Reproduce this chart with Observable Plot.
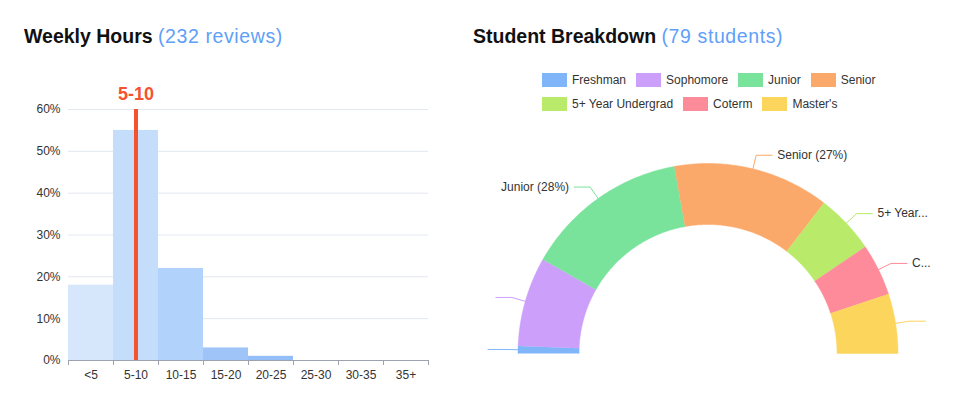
<!DOCTYPE html>
<html>
<head>
<meta charset="utf-8">
<script src="https://cdn.jsdelivr.net/npm/d3@7"></script>
<script src="https://cdn.jsdelivr.net/npm/@observablehq/plot@0.6"></script>
<style>
  html, body { margin: 0; padding: 0; background: #fff; }
  body { width: 962px; height: 394px; position: relative; overflow: hidden;
         font-family: "Liberation Sans", Arial, sans-serif; color: #111; }
  .title { position: absolute; top: 24px; font-size: 19.5px; font-weight: bold; white-space: nowrap; line-height: 24px; }
  .title span { color: #60a0f8; font-weight: normal; letter-spacing: 0.6px; }
  #left { position: absolute; left: 0; top: 60px; }
  #right { position: absolute; left: 480px; top: 130px; }
  #legend { position: absolute; left: 542px; top: 73px; width: 338px; }
  #legend .sw-wrap { display: flex !important; flex-wrap: wrap !important; column-gap: 10px; row-gap: 10px; margin: 0 !important; min-height: 0 !important;
                     font-family: "Liberation Sans", Arial, sans-serif !important; font-size: 12px !important; }
  #legend .sw-item { display: inline-flex !important; align-items: center; font-size: 12px !important; color: #333 !important; height: 14px; line-height: 14px;
                     margin: 0 !important; font-family: "Liberation Sans", Arial, sans-serif !important; }
  #legend .sw-item svg { margin: 0 5px 0 0 !important; border-radius: 4px; }
</style>
</head>
<body>
<div class="title" style="left:24px">Weekly Hours <span>(232 reviews)</span></div>
<div class="title" style="left:473px">Student Breakdown <span>(79 students)</span></div>
<div id="left"></div>
<div id="legend"></div>
<div id="right"></div>
<script>
// ---------- data ----------
const hourCategories = ["<5", "5-10", "10-15", "15-20", "20-25", "25-30", "30-35", "35+"];
const hourShares = [18, 55, 22, 3, 1, 0, 0, 0];           // percent of reviews
const highlightCategory = "5-10";
const yTickValues = [0, 10, 20, 30, 40, 50, 60];

const studentGroups = ["Freshman", "Sophomore", "Junior", "Senior", "5+ Year Undergrad", "Coterm", "Master's"];
const studentCounts = [1, 12, 22, 21, 8, 7, 8];
const sliceLabels = ["", "", "Junior (28%)", "Senior (27%)", "5+ Year...", "C...", ""];

// ---------- styles ----------
const barColors = ["#d6e7fc", "#c4ddfa", "#b1d2fa", "#9ec4f8", "#94bef7", "#94bef7", "#94bef7", "#94bef7"];
const groupColors = ["#80b6f9", "#cc9ffa", "#79e39b", "#fba96a", "#b9ea69", "#fd8b9a", "#fcd55c"];
const highlightColor = "#f5532f";

// ---------- left: histogram ----------
const bars = hourCategories.map((c, i) => ({cat: c, i, share: hourShares[i]}));
const hi = hourCategories.indexOf(highlightCategory);

const left = Plot.plot({
  width: 430, height: 334,
  marginLeft: 68, marginRight: 2, marginTop: 49, marginBottom: 34,
  style: {fontFamily: "Liberation Sans, Arial, sans-serif", fontSize: "12px", color: "#333", background: "transparent"},
  x: {domain: [0, hourCategories.length], label: null},
  y: {domain: [0, 60], label: null},
  marks: [
    Plot.gridY(yTickValues.filter(d => d > 0), {stroke: "#e2e8f0", strokeOpacity: 1}),
    Plot.rectY(bars, {x1: "i", x2: d => d.i + 1, y: "share", fill: d => barColors[d.i]}),
    Plot.ruleY([0], {stroke: "#9ca3af"}),
    Plot.axisX(d3.range(0, hourCategories.length + 1), {tickSize: 5, stroke: "#9ca3af", tickFormat: () => "", label: null}),
    Plot.axisX(bars.map(d => d.i + 0.5), {tickSize: 0, tickPadding: 10, fill: "#333", fontSize: 12, label: null,
      tickFormat: v => hourCategories[Math.floor(v)]}),
    Plot.axisY(yTickValues, {tickSize: 0, tickPadding: 8, fill: "#333", fontSize: 12, label: null, tickFormat: d => d + "%"}),
    Plot.ruleX([hi + 0.5], {y1: 0, y2: 60, stroke: highlightColor, strokeWidth: 4}),
    Plot.text([highlightCategory], {x: hi + 0.5, y: 60, text: d => d, dy: -15,
      fill: highlightColor, fontWeight: "bold", fontSize: 18})
  ]
});
document.getElementById("left").append(left);

// ---------- legend ----------
const legend = Plot.legend({
  color: {type: "ordinal", domain: studentGroups, range: groupColors},
  legend: "swatches", swatchWidth: 25, swatchHeight: 14, className: "sw"
});
document.getElementById("legend").append(legend);
legend.classList.add("sw-wrap");
legend.querySelectorAll("span").forEach(s => s.classList.add("sw-item"));

// ---------- right: half donut ----------
const R = 190, r = 129;
const total = d3.sum(studentCounts);
let acc = 0;
const slices = studentGroups.map((g, i) => {
  const f0 = acc / total; acc += studentCounts[i]; const f1 = acc / total;
  return {group: g, i, a0: Math.PI * (1 - f0), a1: Math.PI * (1 - f1), pct: studentCounts[i] / total};
});

const polys = [];
for (const s of slices) {
  const n = 64;
  for (let k = 0; k <= n; k++) { const a = s.a0 + (s.a1 - s.a0) * k / n; polys.push({g: s.group, i: s.i, x: R * Math.cos(a), y: R * Math.sin(a)}); }
  for (let k = n; k >= 0; k--) { const a = s.a0 + (s.a1 - s.a0) * k / n; polys.push({g: s.group, i: s.i, x: r * Math.cos(a), y: r * Math.sin(a)}); }
}

const leaders = [];
const labelPts = [];
for (const s of slices) {
  const am = (s.a0 + s.a1) / 2;
  const c = Math.cos(am), sn = Math.sin(am);
  const p0 = {x: R * c, y: R * sn};
  const p1 = {x: (R + 14) * c, y: (R + 14) * sn};
  const side = c >= 0 ? 1 : -1;
  const p2 = {x: p1.x + 16 * side, y: p1.y};
  for (const p of [p0, p1, p2]) leaders.push({g: s.group, i: s.i, ...p});
  labelPts.push({i: s.i, x: p2.x + 5 * side, y: p2.y, side, text: sliceLabels[s.i]});
}

const right = Plot.plot({
  width: 482, height: 264,
  marginLeft: 0, marginRight: 0, marginTop: 0, marginBottom: 0,
  style: {fontFamily: "Liberation Sans, Arial, sans-serif", fontSize: "12px", background: "transparent", overflow: "visible"},
  x: {domain: [-227.5, 254.5], axis: null},
  y: {domain: [-41, 223], axis: null},
  marks: [
    ...slices.map(s => Plot.line(polys.filter(p => p.i === s.i), {x: "x", y: "y", fill: groupColors[s.i], stroke: groupColors[s.i], strokeWidth: 0.5, curve: "linear"})),
    ...slices.map(s => Plot.line(leaders.filter(p => p.i === s.i), {x: "x", y: "y", stroke: groupColors[s.i], strokeWidth: 1})),
    Plot.text(labelPts.filter(d => d.side > 0), {x: "x", y: "y", text: "text", textAnchor: "start", fill: "#333", fontSize: 12}),
    Plot.text(labelPts.filter(d => d.side < 0), {x: "x", y: "y", text: "text", textAnchor: "end", fill: "#333", fontSize: 12})
  ]
});
document.getElementById("right").append(right);
</script>
</body>
</html>
